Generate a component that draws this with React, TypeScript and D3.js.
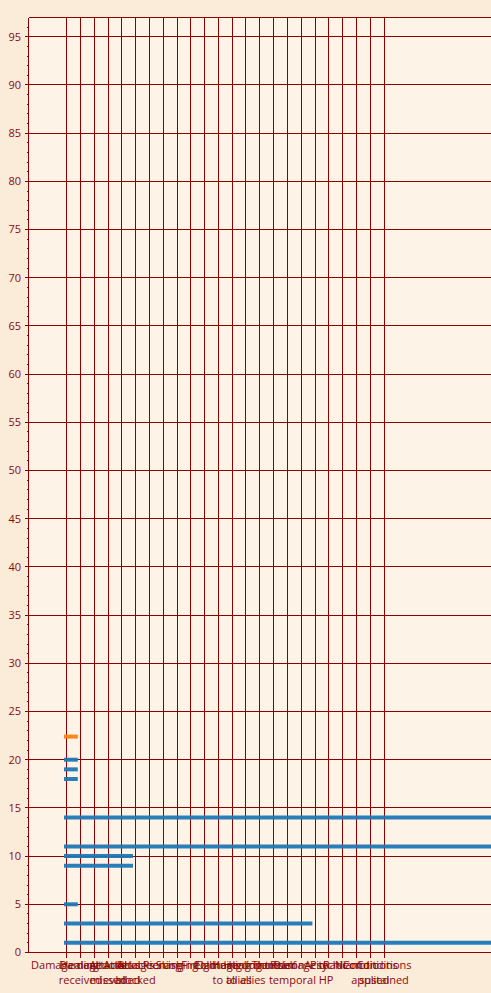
import React, { useMemo } from 'react';
import * as d3 from 'd3';

// x categories (tick labels, left to right)
const categories = [
  'Damage dealt', 'Damage received', 'Healing done', 'Attacks missed', 'Attacks evaded',
  'Attacks blocked', 'Bludgeoning', 'Piercing', 'Slashing', 'Fire', 'Cold', 'Lightning',
  'Damage done to allies', 'Healing done to allies', 'Healing to self', 'Thunder', 'Poison',
  'Damage to temporal HP', 'Acid', 'Psychic', 'Radiant', 'Necrotic',
  'Conditions applied', 'Conditions sustained',
];

// each bar: value on y, first category, last category (null = runs past the last one)
const barValues = [22.4, 20, 19, 18, 14, 11, 10, 9, 5, 3, 1];
const barFrom = ['Damage dealt', 'Damage dealt', 'Damage dealt', 'Damage dealt', 'Damage dealt',
  'Damage dealt', 'Damage dealt', 'Damage dealt', 'Damage dealt', 'Damage dealt', 'Damage dealt'];
const barTo: (string | null)[] = ['Damage received', 'Damage received', 'Damage received',
  'Damage received', null, null, 'Attacks blocked', 'Attacks blocked', 'Damage received',
  'Acid', null];
const barSeries = ['b', 'a', 'a', 'a', 'a', 'a', 'a', 'a', 'a', 'a', 'a'];

const yTicks = d3.range(0, 96, 5);
const yMinor = d3.range(0, 97, 1);

const W = 491;
const H = 993;
const margin = { top: 17.5, left: 28, bottom: 40.5 };
const DARK = '#8b0000';
const TEXT = '#8b0a0a';
const FONT = '"Open Sans", "Noto Sans", sans-serif';

const px = (v: number) => Math.round(v - 0.5) + 0.5;

function wrapLabel(label: string, ctx: CanvasRenderingContext2D | null, maxW: number) {
  const words = label.split(' ');
  const lines: string[] = [];
  let cur = '';
  for (const w of words) {
    const t = cur ? cur + ' ' + w : w;
    const width = ctx ? ctx.measureText(t).width : t.length * 6;
    if (cur && width > maxW) {
      lines.push(cur);
      cur = w;
    } else cur = t;
  }
  if (cur) lines.push(cur);
  return lines;
}

const App: React.FC = () => {
  const plotBottom = H - margin.bottom;
  const x = d3.scalePoint<string>().domain(categories).range([66.6, 384]);
  const y = d3.scaleLinear().domain([0, 97]).range([plotBottom, margin.top]);
  const color = d3.scaleOrdinal<string, string>().domain(['a', 'b']).range(['#1f77b4', '#ff7f0e']);

  const wrapped = useMemo(() => {
    const ctx = document.createElement('canvas').getContext('2d');
    if (ctx) ctx.font = `11px ${FONT}`;
    return categories.map(c => wrapLabel(c, ctx, 75));
  }, []);

  const shift = -2.6;
  const top = px(margin.top);
  const bottom = px(plotBottom);
  const left = px(margin.left);

  return (
    <div style={{ width: W, height: H, overflow: 'hidden' }}>
      <style>{`body{margin:0;background:#fbebd9}`}</style>
      <svg width={W} height={H} style={{ display: 'block', background: '#fbebd9' }}>
        <rect x={left} y={top} width={W - left} height={bottom - top} fill="#fdf3e7" />

        <g shapeRendering="crispEdges" stroke={DARK} strokeWidth={1}>
          {/* horizontal grid + major ticks */}
          {yTicks.map(t => (
            <line key={'h' + t} x1={left - 4} x2={W} y1={px(y(t))} y2={px(y(t))} />
          ))}
          {yMinor.filter(t => t % 5 !== 0).map(t => (
            <line key={'m' + t} x1={left - 2} x2={left} y1={px(y(t))} y2={px(y(t))} />
          ))}
          {/* vertical grid + ticks */}
          {categories.map(c => (
            <line key={'v' + c} x1={px(x(c) ?? 0)} x2={px(x(c) ?? 0)} y1={top} y2={bottom + 5} />
          ))}
          {/* frame */}
          <line x1={left} x2={left} y1={top} y2={bottom} />
          <line x1={left} x2={W} y1={bottom} y2={bottom} />
          <line x1={left} x2={W} y1={top} y2={top} />
        </g>

        {yTicks.map(t => (
          <text key={'yl' + t} x={margin.left - 7} y={y(t)} dy="0.35em" textAnchor="end"
            fontSize={11} fontFamily={FONT} fill={TEXT}>{t}</text>
        ))}

        {/* bars */}
        {barValues.map((v, i) => {
          const x1 = (x(barFrom[i]) ?? 0) + shift;
          const end = barTo[i];
          const x2 = end ? (x(end) ?? 0) + shift : W + 5;
          return (
            <line key={'b' + i} x1={x1} x2={x2} y1={y(v)} y2={y(v)}
              stroke={color(barSeries[i])} strokeWidth={4} strokeOpacity={0.95} />
          );
        })}

        {/* x labels */}
        {categories.map((c, i) => (
          <text key={'xl' + c} x={x(c)} y={plotBottom + 16.5} textAnchor="middle"
            fontSize={11} fontFamily={FONT} fill={TEXT}>
            {wrapped[i].map((ln, j) => (
              <tspan key={j} x={x(c)} dy={j === 0 ? 0 : 14.5}>{ln}</tspan>
            ))}
          </text>
        ))}
      </svg>
    </div>
  );
};

export default App;
